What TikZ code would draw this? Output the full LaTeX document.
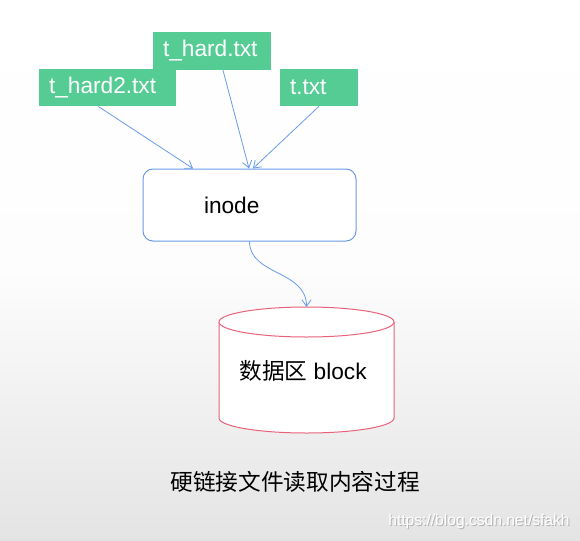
\documentclass[tikz,border=0pt]{standalone}
\usepackage{fontspec}
\setmainfont{Liberation Sans}
\newfontfamily\cjk{Noto Sans CJK SC}
\usetikzlibrary{arrows.meta, calc}

\definecolor{filegreen}{RGB}{85,204,148}
\definecolor{linkblue}{RGB}{106,155,232}
\definecolor{dbred}{RGB}{232,98,122}
\definecolor{bggray}{RGB}{228,228,228}

\tikzset{
    filebox/.style={fill=filegreen, text=white, align=left, inner xsep=7.5pt, inner ysep=0pt,
        minimum height=27.75pt, font=\fontsize{17}{20}\selectfont},
    inodebox/.style={draw=linkblue, fill=white, rounded corners=7.5pt, line width=0.75pt,
        align=left, inner xsep=45.75pt, text width=68.25pt, minimum height=54pt,
        font=\fontsize{17}{20}\selectfont},
    link/.style={draw=linkblue, line width=0.6pt, -{Straight Barb[length=5pt,width=7pt]}},
    dbline/.style={draw=dbred, line width=0.75pt, fill=white}
}

\begin{document}
\begin{tikzpicture}[x=0.75pt, y=0.75pt]
    % Background
    \shade[top color=white, bottom color=bggray, middle color=white!93!bggray] (0,0) rectangle (580,540);

    % Draw nodes
    \node[filebox, text width=87.75pt] (hard2) at (107.5,452.5) {t\_hard2.txt};
    \node[filebox, text width=73.5pt, minimum height=28.5pt] (hard) at (212,489) {t\_hard.txt};
    \node[filebox, text width=43.5pt] (tfile) at (319,452.5) {t.txt};
    \node[inodebox] (inode) at (249.5,335) {inode};

    % Data block
    \draw[dbline] (219,218) -- (219,122) arc[start angle=180, end angle=360, x radius=87.5, y radius=15] -- (394,218);
    \draw[dbline] (306.5,218) ellipse[x radius=87.5, y radius=15];
    \coordinate (dbtop) at (306.5,233);
    \node[font=\fontsize{17}{20}\selectfont] (block) at (303,169) {{\cjk 数据区} block};

    % Draw connections
    \draw[link] ($(hard2.south)+(-9.5,0)$) -- ($(inode.north)+(-56.5,0)$);
    \draw[link] ($(hard.south)+(11,0)$) -- ($(inode.north)+(-0.5,0)$);
    \draw[link] (tfile.south) -- ($(inode.north)+(3.5,0)$);
    \draw[link] (inode.south) .. controls +(0,-34) and +(0,37) .. (dbtop);

    % Labels
    \node[font=\cjk\fontsize{17}{20}\selectfont] (caption) at (295,58) {硬链接文件读取内容过程};
    \node[text=black!30, font=\fontsize{11.7}{14}\selectfont] (markshadow) at (480,18) {https://blog.csdn.net/sfakh};
    \node[text=white, font=\fontsize{11.7}{14}\selectfont] (mark) at (479,19) {https://blog.csdn.net/sfakh};
\end{tikzpicture}
\end{document}
